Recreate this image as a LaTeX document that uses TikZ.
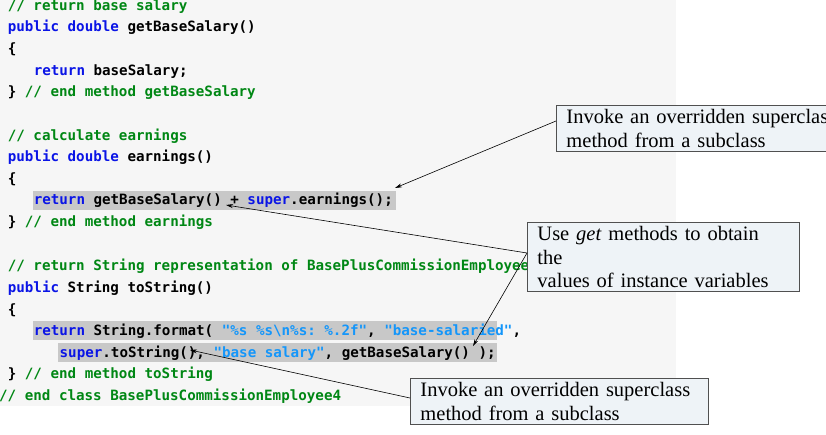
\documentclass[tikz,border=0pt]{standalone}
\usepackage{fontspec}
\setmonofont{DejaVu Sans Mono}
\setmainfont{Liberation Serif}
\usetikzlibrary{arrows.meta}
\definecolor{kw}{RGB}{10,20,230}
\definecolor{cm}{RGB}{0,135,20}
\definecolor{st}{RGB}{20,150,250}
\definecolor{bg}{RGB}{246,246,246}
\definecolor{hl}{RGB}{200,200,200}
\definecolor{cfill}{RGB}{238,243,247}
\definecolor{cdraw}{RGB}{80,80,80}
\newcommand{\K}[1]{\textcolor{kw}{#1}}
\newcommand{\C}[1]{\textcolor{cm}{#1}}
\newcommand{\Sx}[1]{\textcolor{st}{#1}}
\begin{document}
\begin{tikzpicture}[x=1pt,y=-1pt,
  code/.style={anchor=base west,inner sep=0pt,font=\ttfamily\bfseries\fontsize{14.2}{16}\selectfont},
  callout/.style={draw=cdraw,line width=0.9pt,fill=cfill,anchor=north west,align=left,inner xsep=10pt,inner ysep=4pt,font=\fontsize{20.5}{23.5}\selectfont},
  arr/.style={-{Stealth[length=7pt,width=4pt]},line width=0.6pt}]
\useasboundingbox (0,0) rectangle (826,435);
\fill[bg] (0,0) rectangle (676,406);
\fill[hl] (33,191) rectangle (396,210);
\fill[hl] (33,321) rectangle (497,340);
\fill[hl] (58,343) rectangle (497,362);
\def\cx#1{\fpeval{-1+#1*8.64}}
\node[code] (l1) at (\cx{1},11) {\C{// return base salary}};
\node[code] (l2) at (\cx{1},32) {\K{public double} getBaseSalary()};
\node[code] (l3) at (\cx{1},54) {\{};
\node[code] (l4) at (\cx{4},76) {\K{return} baseSalary;};
\node[code] (l5) at (\cx{1},97) {\} \C{// end method getBaseSalary}};
\node[code] (l6) at (\cx{1},141) {\C{// calculate earnings}};
\node[code] (l7) at (\cx{1},162) {\K{public double} earnings()};
\node[code] (l8) at (\cx{1},184) {\{};
\node[code] (l9) at (\cx{4},205) {\K{return} getBaseSalary() + \K{super}.earnings();};
\node[code] (l10) at (\cx{1},227) {\} \C{// end method earnings}};
\node[code] (l11) at (\cx{1},270) {\C{// return String representation of BasePlusCommissionEmployee4}};
\node[code] (l12) at (\cx{1},292) {\K{public} String toString()};
\node[code] (l13) at (\cx{1},314) {\{};
\node[code] (l14) at (\cx{4},335) {\K{return} String.format( \Sx{"\%s \%s\textbackslash n\%s: \%.2f"}, \Sx{"base-salaried"},};
\node[code] (l15) at (\cx{7},357) {\K{super}.toString(), \Sx{"base salary"}, getBaseSalary() );};
\node[code] (l16) at (\cx{1},378) {\} \C{// end method toString}};
\node[code] (l17) at (\cx{0},400) {\C{// end class BasePlusCommissionEmployee4}};
\node[callout,text width=290pt] (b1) at (556,105) {Invoke an overridden superclass\\method from a subclass};
\node[callout,text width=252pt] (b2) at (527,222) {Use \textit{get} methods to obtain the\\values of instance variables};
\node[callout,text width=278pt] (b3) at (410,378) {Invoke an overridden superclass\\method from a subclass};
\coordinate (t1) at (395,188);
\coordinate (t2) at (226,205);
\coordinate (t3) at (473,346);
\coordinate (t4) at (190,350);
\coordinate (s2) at (527,253);
\draw[arr] (556,121) -- (t1);
\draw[arr] (s2) -- (t2);
\draw[arr] (s2) -- (t3);
\draw[arr] (410,398) -- (t4);
\end{tikzpicture}
\end{document}
